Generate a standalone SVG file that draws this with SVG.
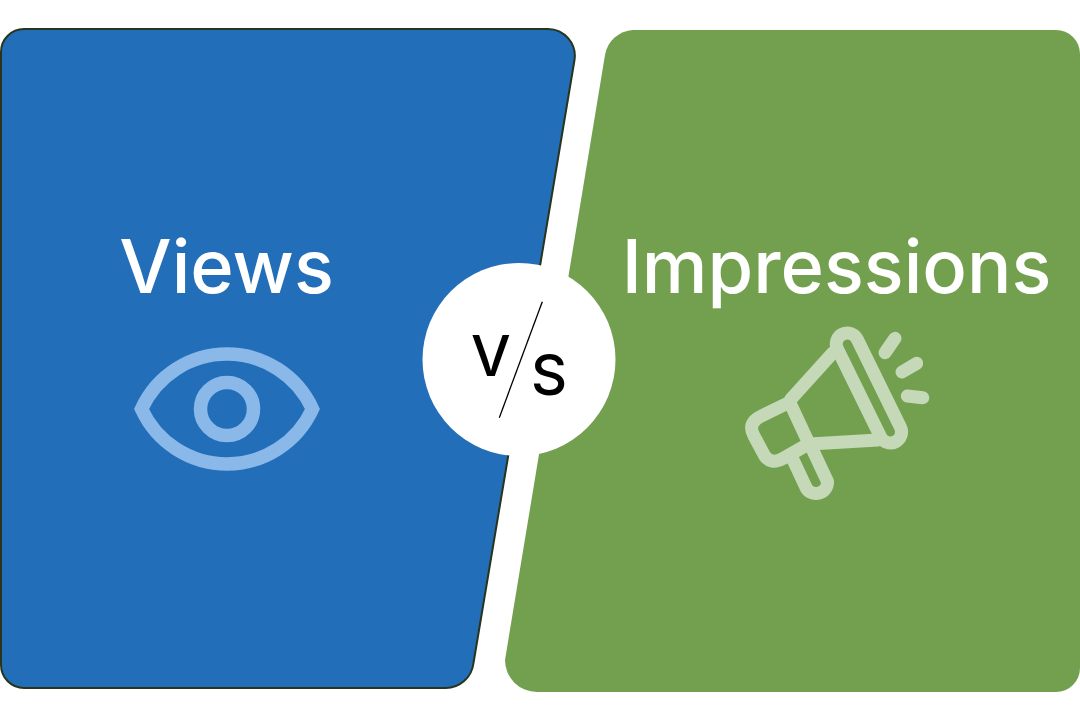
<svg xmlns="http://www.w3.org/2000/svg" width="1080" height="719" viewBox="0 0 1080 719">
<style>
text{font-family:"Inter","Liberation Sans",sans-serif}
.t{fill:#fff;font-size:74px;font-weight:500}
.vs{fill:#000;font-size:56px;font-weight:500}
.eye{fill:none;stroke:#8ab8e9;stroke-width:13.5;stroke-miterlimit:10}
.mega{fill:none;stroke:#c5d9b9;stroke-width:13;stroke-linecap:round;stroke-linejoin:round}
</style>
<rect width="1080" height="719" fill="#fff"/>
<g id="views">
<path d="M24 29H548A27 27 0 0 1 574.500 60L473.500 663A28 28 0 0 1 445 688H24A23 23 0 0 1 1 665V52A23 23 0 0 1 24 29Z" fill="#236eb8" stroke="#26351c" stroke-width="2"/>
<text class="t" x="226.500" y="293" text-anchor="middle">Views</text>
<path class="eye" d="M141.500 409A94 94 0 0 1 312.500 409A94 94 0 0 1 141.500 409Z"/>
<circle class="eye" cx="227" cy="409" r="26.500"/>
</g>
<g id="impressions">
<path d="M633 30H1056A24 24 0 0 1 1080 54V668A24 24 0 0 1 1056 692H537A32 32 0 0 1 505 660L605 55A30 30 0 0 1 633 30Z" fill="#72a04f"/>
<text class="t" x="836.500" y="293" text-anchor="middle">Impressions</text>
<g class="mega">
<path d="M857.200 339.100L900.400 427.100A11 11 0 0 1 880.600 436.900L837.400 348.900A11 11 0 0 1 857.200 339.100Z"/>
<path d="M832.300 353.300L790.700 399.300M810 444L878 440M791 405L807.300 440"/>
<path d="M788 403L760.500 416.500Q747 423 754 436L764.500 455.500Q770.500 465 783 458.500L806.700 445"/>
<path d="M792.700 459L806.500 488.500A11.500 11.500 0 0 0 827.500 481.500L812.700 450"/>
<path d="M895 338.300L885 352.700M916.700 363.300L902 372M922.800 397.700L907.300 396"/>
</g>
</g>
<g id="versus">
<circle cx="519" cy="359.500" r="96.500" fill="#fff"/>
<text class="vs" x="471" y="376">V</text>
<text class="vs" x="531" y="395">S</text>
</g>
<g id="connectors">
<path d="M542.300 301.700L499.300 417.700" stroke="#000" stroke-width="1.300" fill="none"/>
</g>
</svg>
